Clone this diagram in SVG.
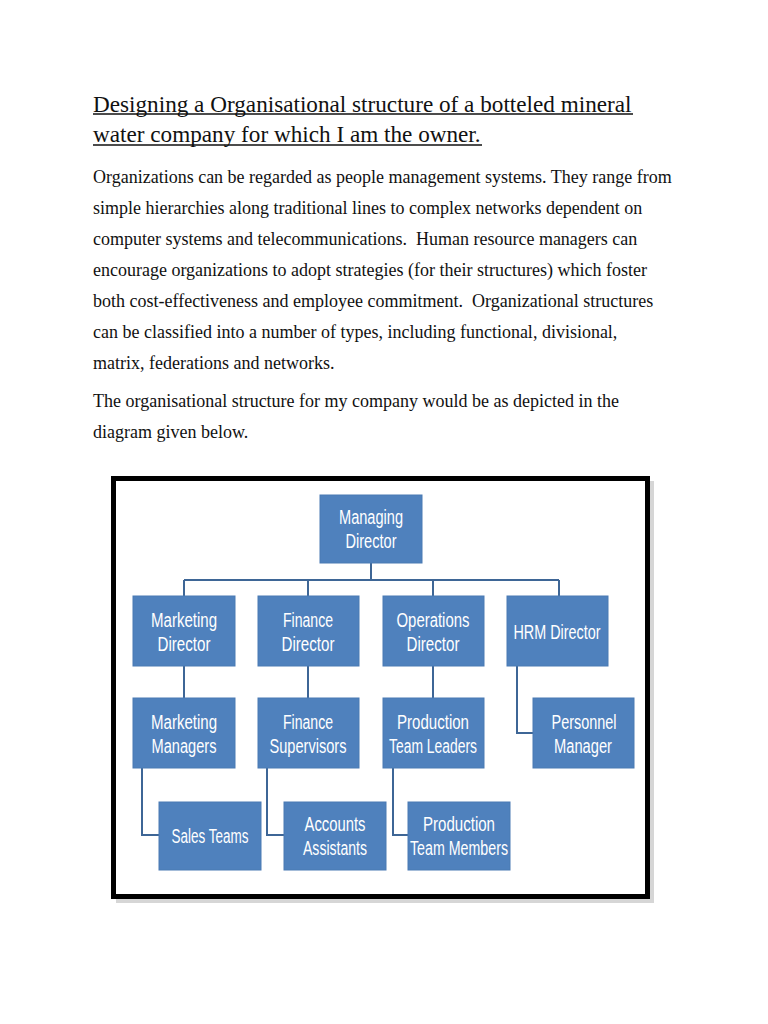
<svg xmlns="http://www.w3.org/2000/svg" width="768" height="1024" viewBox="0 0 768 1024">
<style>
.title{font-family:"Liberation Serif","Times New Roman",serif;font-size:23.2px;fill:#111;}
.body{font-family:"Liberation Serif","Times New Roman",serif;font-size:18px;fill:#111;white-space:pre;}
.box{fill:#4F81BD;stroke:#4A7AB3;stroke-width:1;}
.lbl{font-family:"Liberation Sans",Arial,sans-serif;font-size:20px;fill:#fff;text-anchor:middle;}
.conn{fill:none;stroke:#3E6696;stroke-width:2;}
</style>
<rect width="768" height="1024" fill="#fff"/>
<g id="title">
<text class="title" x="93" y="112">Designing a Organisational structure of a botteled mineral</text>
<line x1="93" y1="114" x2="633" y2="114" stroke="#111" stroke-width="1.3"/>
<text class="title" x="93" y="142">water company for which I am the owner.</text>
<line x1="93" y1="145" x2="482" y2="145" stroke="#111" stroke-width="1.3"/>
</g>
<g id="body">
<text class="body" x="93" y="183" xml:space="preserve">Organizations can be regarded as people management systems. They range from</text>
<text class="body" x="93" y="214" xml:space="preserve">simple hierarchies along traditional lines to complex networks dependent on</text>
<text class="body" x="93" y="245" xml:space="preserve">computer systems and telecommunications.  Human resource managers can</text>
<text class="body" x="93" y="276" xml:space="preserve">encourage organizations to adopt strategies (for their structures) which foster</text>
<text class="body" x="93" y="307" xml:space="preserve">both cost-effectiveness and employee commitment.  Organizational structures</text>
<text class="body" x="93" y="338" xml:space="preserve">can be classified into a number of types, including functional, divisional,</text>
<text class="body" x="93" y="369" xml:space="preserve">matrix, federations and networks.</text>
<text class="body" x="93" y="407" xml:space="preserve">The organisational structure for my company would be as depicted in the</text>
<text class="body" x="93" y="438" xml:space="preserve">diagram given below.</text>
</g>
<g id="frame">
<rect x="116" y="481" width="538" height="422" fill="#bbb" opacity="0.6"/>
<rect x="113.5" y="478.5" width="534" height="418" fill="#fff" stroke="#000" stroke-width="5"/>
</g>
<g id="connectors">
<path class="conn" d="M371 563 V580 M184 580 H559 M184 580 V596 M308 580 V596 M433 580 V596 M559 580 V596"/>
<path class="conn" d="M184 666 V698 M308 666 V698 M433 666 V698"/>
<path class="conn" d="M517 666 V733 H533"/>
<path class="conn" d="M142 768 V835 H159 M267 768 V835 H284 M393 768 V835 H408"/>
</g>
<g id="managing-director"><rect class="box" x="320" y="495" width="102" height="68"/><text class="lbl" x="371" y="524" textLength="64" lengthAdjust="spacingAndGlyphs">Managing</text><text class="lbl" x="371" y="548" textLength="51" lengthAdjust="spacingAndGlyphs">Director</text></g>
<g id="marketing-director"><rect class="box" x="133" y="596" width="102" height="70"/><text class="lbl" x="184" y="627" textLength="66" lengthAdjust="spacingAndGlyphs">Marketing</text><text class="lbl" x="184" y="651" textLength="53" lengthAdjust="spacingAndGlyphs">Director</text></g>
<g id="finance-director"><rect class="box" x="258" y="596" width="101" height="70"/><text class="lbl" x="308" y="627" textLength="50" lengthAdjust="spacingAndGlyphs">Finance</text><text class="lbl" x="308" y="651" textLength="53" lengthAdjust="spacingAndGlyphs">Director</text></g>
<g id="operations-director"><rect class="box" x="383" y="596" width="101" height="70"/><text class="lbl" x="433" y="627" textLength="73" lengthAdjust="spacingAndGlyphs">Operations</text><text class="lbl" x="433" y="651" textLength="53" lengthAdjust="spacingAndGlyphs">Director</text></g>
<g id="hrm-director"><rect class="box" x="507" y="596" width="101" height="70"/><text class="lbl" x="557" y="639" textLength="87" lengthAdjust="spacingAndGlyphs">HRM Director</text></g>
<g id="marketing-managers"><rect class="box" x="133" y="698" width="102" height="70"/><text class="lbl" x="184" y="729" textLength="66" lengthAdjust="spacingAndGlyphs">Marketing</text><text class="lbl" x="184" y="753" textLength="65" lengthAdjust="spacingAndGlyphs">Managers</text></g>
<g id="finance-supervisors"><rect class="box" x="258" y="698" width="101" height="70"/><text class="lbl" x="308" y="729" textLength="50" lengthAdjust="spacingAndGlyphs">Finance</text><text class="lbl" x="308" y="753" textLength="77" lengthAdjust="spacingAndGlyphs">Supervisors</text></g>
<g id="production-team-leaders"><rect class="box" x="383" y="698" width="101" height="70"/><text class="lbl" x="433" y="729" textLength="72" lengthAdjust="spacingAndGlyphs">Production</text><text class="lbl" x="433" y="753" textLength="88" lengthAdjust="spacingAndGlyphs">Team Leaders</text></g>
<g id="personnel-manager"><rect class="box" x="533" y="698" width="101" height="70"/><text class="lbl" x="584" y="729" textLength="65" lengthAdjust="spacingAndGlyphs">Personnel</text><text class="lbl" x="583" y="753" textLength="58" lengthAdjust="spacingAndGlyphs">Manager</text></g>
<g id="sales-teams"><rect class="box" x="159" y="802" width="102" height="68"/><text class="lbl" x="210" y="843" textLength="77" lengthAdjust="spacingAndGlyphs">Sales Teams</text></g>
<g id="accounts-assistants"><rect class="box" x="284" y="802" width="102" height="68"/><text class="lbl" x="335" y="831" textLength="61" lengthAdjust="spacingAndGlyphs">Accounts</text><text class="lbl" x="335" y="855" textLength="64" lengthAdjust="spacingAndGlyphs">Assistants</text></g>
<g id="production-team-members"><rect class="box" x="408" y="802" width="102" height="68"/><text class="lbl" x="459" y="831" textLength="72" lengthAdjust="spacingAndGlyphs">Production</text><text class="lbl" x="459" y="855" textLength="98" lengthAdjust="spacingAndGlyphs">Team Members</text></g>
</svg>
